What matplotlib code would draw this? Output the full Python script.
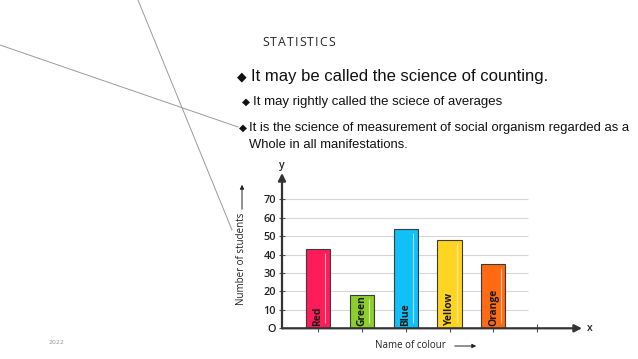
import matplotlib
matplotlib.use("Agg")
import matplotlib.pyplot as plt
from matplotlib.lines import Line2D
from matplotlib.patches import FancyArrowPatch

# ---- data ----
categories = ["Red", "Green", "Blue", "Yellow", "Orange"]
students = [43, 18, 54, 48, 35]
bar_colors = ["#FF1C58", "#8DCF2A", "#10C0F6", "#FFD422", "#FF6A12"]
yticks = [0, 10, 20, 30, 40, 50, 60, 70]
ytick_labels = ["O", "10", "20", "30", "40", "50", "60", "70"]
title = "STATISTICS"
bullets = ["It may be called the science of counting.",
           "It may rightly called the sciece of averages",
           "It is the science of measurement of social organism regarded as a",
           "Whole in all manifestations."]

W, H = 638, 359
fig = plt.figure(figsize=(W / 100, H / 100), dpi=100)
fig.patch.set_facecolor("white")

def fx(x):
    return x / W

def fy(y):
    return 1 - y / H

# decorative lines
for (x0, y0, x1, y1) in [(0, 45, 238, 127), (138, 0, 232, 230)]:
    fig.add_artist(Line2D([fx(x0), fx(x1)], [fy(y0), fy(y1)], transform=fig.transFigure,
                          color="#9a9a9a", lw=0.7))

# letter-spaced title
renderer = fig.canvas.get_renderer()
cx = 262.0
for ch in title:
    t = fig.text(fx(cx), fy(42), ch, fontsize=8.8, family="Open Sans", color="#262626",
                 ha="left", va="center")
    w = t.get_window_extent(renderer=renderer).width
    cx += w + 1.15

fig.text(fx(242), fy(77), "\u25c6", fontsize=9, family="DejaVu Sans", color="#111", ha="center", va="center")
fig.text(fx(251), fy(77), bullets[0], fontsize=12, family="Liberation Sans", color="#111",
         ha="left", va="center")
fig.text(fx(246), fy(102), "\u25c6", fontsize=7.5, family="DejaVu Sans", color="#111", ha="center", va="center")
fig.text(fx(253), fy(102), bullets[1], fontsize=9.55, family="Liberation Sans", color="#111",
         ha="left", va="center")
fig.text(fx(243), fy(128), "\u25c6", fontsize=7.5, family="DejaVu Sans", color="#111", ha="center", va="center")
fig.text(fx(249), fy(128), bullets[2], fontsize=9.4, family="Liberation Sans", color="#111",
         ha="left", va="center")
fig.text(fx(249), fy(145), bullets[3], fontsize=9.4, family="Liberation Sans", color="#111",
         ha="left", va="center")
fig.text(fx(56), fy(342), "2022", fontsize=4.5, color="#999", ha="center", va="center")

# chart axes
ax = fig.add_axes([fx(282), 1 - 328.3 / H, 300 / W, (328.3 - 173) / H])
ax.set_xlim(0.18, 7.02)
ax.set_ylim(0, 84.3)
for s in ax.spines.values():
    s.set_visible(False)
ax.patch.set_alpha(0)

x = list(range(1, len(categories) + 1))
ax.hlines(yticks[1:], 0.18, 5.78, color="#d8d8d8", lw=0.8, zorder=0)
ax.bar(x, students, width=0.55, color=bar_colors, edgecolor="#3a3a3a", linewidth=0.8, zorder=2)
for xi, v, name in zip(x, students, categories):
    ax.vlines(xi + 0.17, 3, v - 2, color="white", lw=0.8, alpha=0.6, zorder=3)
    ax.text(xi, 1.2, name, rotation=90, ha="center", va="bottom", fontsize=7.4,
            family="Open Sans", fontweight="bold", color="#1a1a1a", zorder=4)

# axes with arrows
arrow_kw = dict(arrowstyle="-|>", color="#333", lw=1.6, mutation_scale=11, shrinkA=0, shrinkB=0)
ax.annotate("", xy=(0.18, 84.3), xytext=(0.18, 0), xycoords="data",
            arrowprops=arrow_kw, annotation_clip=False)
ax.annotate("", xy=(7.02, 0), xytext=(0.18, 0), xycoords="data",
            arrowprops=arrow_kw, annotation_clip=False)

ax.set_yticks(yticks)
ax.set_yticklabels(ytick_labels, family="Open Sans", fontsize=7.8, fontweight="semibold", color="#222")
ax.tick_params(axis="y", direction="inout", length=5, width=0.8, color="#555", pad=2)
ax.set_xticks([1, 2, 3, 4, 5, 6])
ax.set_xticklabels([])
ax.tick_params(axis="x", direction="inout", length=6, width=0.8, color="#555")

ax.text(0.18, 88.6, "y", ha="center", va="center", fontsize=7.5, family="Open Sans",
        fontweight="semibold", color="#222", clip_on=False)
ax.text(7.12, 0, "x", ha="left", va="center", fontsize=7.5, family="Open Sans",
        fontweight="semibold", color="#222", clip_on=False)

# axis labels with arrows
fig.text(fx(242), fy(259), "Number of students", rotation=90, fontsize=7, family="Open Sans",
         fontweight="medium", color="#222", ha="center", va="center")
fig.add_artist(FancyArrowPatch((fx(242), fy(212)), (fx(242), fy(182)),
               transform=fig.transFigure, arrowstyle="-|>", mutation_scale=6, lw=0.7, color="#222"))
fig.text(fx(410), fy(345), "Name of colour", fontsize=7, family="Open Sans",
         fontweight="medium", color="#222", ha="center", va="center")
fig.add_artist(FancyArrowPatch((fx(452), fy(346)), (fx(479), fy(346)),
               transform=fig.transFigure, arrowstyle="-|>", mutation_scale=6, lw=0.7, color="#222"))

fig.savefig("out.png", dpi=100, facecolor="white")
